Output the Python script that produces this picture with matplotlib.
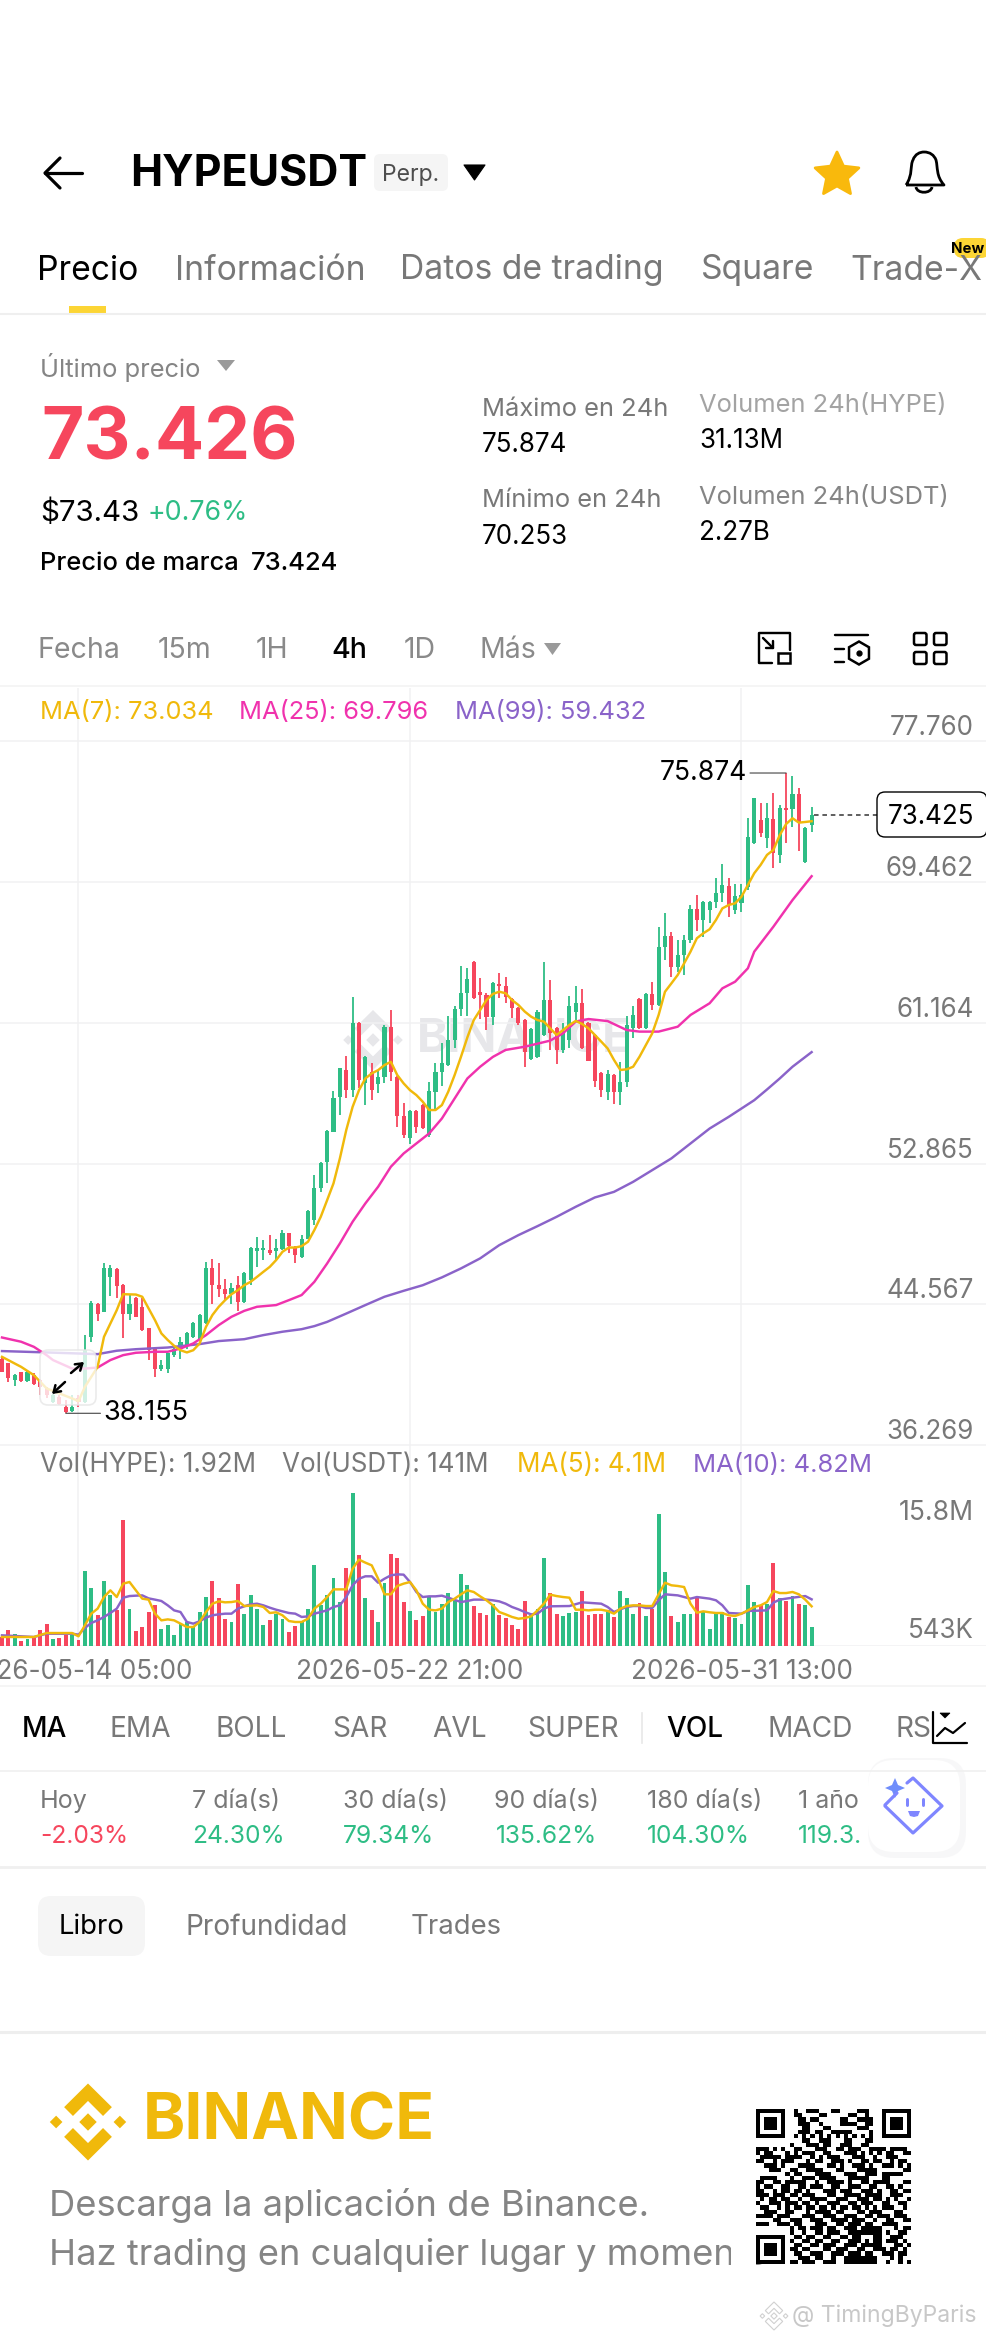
import numpy as np
import matplotlib
matplotlib.use("Agg")
import matplotlib.pyplot as plt
from matplotlib.patches import FancyBboxPatch, Polygon, PathPatch, Rectangle
from matplotlib.path import Path

plt.rcParams['font.family'] = ['Inter', 'DejaVu Sans']

W, H = 987, 2340
UP = '#2ebd85'
DOWN = '#f6465d'
YELLOW = '#f0b90b'
PINK = '#f032ad'
PURPLE = '#8a63c9'
GRID = '#f1f1f2'
GRAY = '#787878'

# 4h candles
opens = [41.38, 41.09, 40.11, 40.56, 40.07, 40.40, 40.11, 39.62, 38.83, 39.13,
         38.54, 38.30, 39.03, 38.83, 42.66, 44.62, 44.13, 46.20, 46.63, 45.70,
         44.03, 44.92, 44.43, 43.15, 41.97, 40.74, 40.79, 41.58, 41.97, 42.17,
         42.62, 42.47, 43.45, 46.69, 45.70, 45.45, 45.21, 45.70, 44.72, 46.00,
         47.73, 47.77, 47.77, 47.73, 47.81, 48.75, 47.96, 47.38, 48.45, 49.53,
         51.40, 52.97, 54.74, 56.76, 58.37, 57.19, 61.14, 57.59, 58.27, 57.55,
         57.98, 60.93, 57.98, 55.66, 54.35, 55.96, 56.31, 54.54, 57.10, 58.27,
         58.67, 60.15, 61.95, 62.90, 64.76, 62.99, 62.80, 61.52, 63.43, 63.35,
         62.54, 62.01, 61.32, 59.00, 59.16, 60.44, 62.50, 60.83, 59.56, 60.15,
         61.82, 62.31, 61.13, 60.44, 58.18, 57.10, 58.08, 57.10, 57.69, 60.83,
         62.54, 60.83, 62.86, 62.21, 65.64, 66.27, 64.43, 65.15, 66.04, 67.84,
         67.22, 67.81, 68.30, 68.79, 69.24, 67.81, 68.20, 69.18, 71.73, 73.11,
         72.03, 73.15, 71.05, 73.80, 73.74, 74.64, 70.65, 72.81]
highs = [41.48, 41.13, 40.44, 40.60, 40.64, 40.50, 40.20, 39.72, 39.32, 39.22,
         38.93, 39.22, 39.22, 42.76, 44.76, 44.68, 46.98, 46.88, 46.70, 45.80,
         45.12, 44.98, 44.92, 43.20, 42.00, 41.29, 41.72, 42.07, 42.66, 42.96,
         43.55, 44.00, 47.08, 47.22, 46.98, 46.04, 45.84, 46.24, 46.45, 47.98,
         48.55, 48.36, 48.65, 48.45, 48.95, 48.80, 48.00, 48.65, 50.12, 52.19,
         52.95, 54.85, 57.14, 58.52, 59.20, 62.65, 61.20, 59.20, 58.77, 58.37,
         61.00, 61.91, 58.00, 56.41, 56.00, 56.00, 56.35, 57.68, 58.80, 59.94,
         61.56, 62.15, 64.50, 64.37, 64.80, 63.78, 62.93, 63.58, 64.07, 63.84,
         62.60, 62.10, 61.40, 60.85, 61.90, 64.76, 63.68, 60.90, 61.13, 62.74,
         63.33, 63.13, 61.20, 60.50, 58.25, 58.38, 58.15, 58.87, 61.56, 62.15,
         62.60, 62.90, 63.58, 66.78, 67.61, 66.53, 66.04, 66.33, 68.10, 68.69,
         68.35, 68.35, 69.67, 70.50, 69.67, 69.34, 69.34, 73.21, 74.42, 74.09,
         74.09, 74.72, 73.99, 75.874, 75.70, 74.97, 72.70, 73.85]
lows = [40.56, 40.01, 39.75, 40.02, 40.01, 39.81, 39.22, 39.03, 38.77, 38.63,
        38.155, 38.25, 38.54, 38.79, 42.37, 43.60, 44.10, 45.06, 44.92, 42.60,
        43.64, 43.80, 43.00, 41.29, 40.30, 40.66, 40.54, 41.50, 41.33, 41.97,
        42.58, 42.40, 43.40, 44.62, 45.02, 44.82, 44.62, 44.19, 44.68, 45.70,
        46.79, 47.18, 47.47, 47.18, 47.75, 47.57, 47.02, 47.30, 48.40, 49.24,
        51.20, 51.70, 54.70, 55.72, 56.70, 56.76, 57.29, 56.31, 56.64, 57.04,
        57.63, 57.74, 55.03, 54.35, 54.01, 54.68, 54.90, 54.44, 56.02, 57.43,
        58.60, 59.65, 61.56, 61.56, 62.55, 61.36, 60.74, 61.03, 62.60, 62.35,
        61.42, 61.03, 58.57, 58.95, 59.10, 60.40, 59.56, 58.73, 59.36, 59.65,
        61.23, 59.60, 58.90, 57.40, 56.81, 56.61, 56.37, 56.32, 57.40, 60.24,
        60.80, 60.80, 61.91, 62.15, 64.86, 63.88, 64.17, 63.98, 65.84, 66.59,
        66.19, 67.02, 67.90, 68.30, 67.41, 67.55, 67.71, 68.98, 71.70, 72.13,
        71.44, 70.253, 70.55, 71.77, 72.72, 71.30, 70.60, 72.42]
closes = [40.60, 40.21, 40.40, 40.07, 40.56, 39.87, 39.72, 39.22, 39.22, 38.73,
          38.24, 38.54, 38.83, 41.88, 44.68, 44.03, 46.69, 46.73, 45.65, 44.03,
          44.62, 43.84, 43.05, 41.88, 40.79, 40.99, 41.68, 41.97, 42.37, 42.86,
          43.49, 43.94, 46.69, 45.70, 45.47, 45.21, 45.51, 44.72, 46.39, 47.92,
          47.87, 47.87, 47.57, 47.87, 48.79, 48.00, 47.47, 48.45, 50.08, 51.40,
          52.91, 54.80, 56.70, 58.47, 57.19, 61.14, 57.78, 59.16, 57.19, 57.98,
          60.93, 58.27, 55.66, 54.54, 55.96, 55.03, 54.94, 57.15, 58.27, 58.77,
          60.14, 61.95, 62.90, 63.72, 62.60, 62.80, 61.52, 63.48, 63.33, 62.70,
          62.01, 61.13, 59.46, 60.77, 61.82, 62.50, 60.54, 59.56, 60.54, 62.15,
          62.31, 59.65, 58.93, 57.75, 57.20, 58.14, 57.10, 57.69, 61.03, 61.62,
          60.83, 62.86, 62.21, 65.64, 66.27, 64.43, 65.15, 66.04, 67.84, 67.22,
          68.30, 68.30, 68.79, 69.28, 68.10, 68.63, 68.69, 72.13, 74.38, 72.32,
          73.21, 71.14, 73.80, 73.70, 74.64, 72.91, 72.62, 73.425]
volumes = [0.93, 1.62, 1.27, 0.48, 0.69, 0.86, 1.62, 2.31, 0.72, 0.86,
           1.10, 1.10, 0.59, 7.71, 5.96, 3.17, 6.68, 5.23, 3.68, 12.98,
           3.86, 1.58, 1.96, 3.51, 4.20, 1.79, 2.13, 1.10, 2.31, 2.48,
           1.96, 3.48, 5.03, 6.68, 4.99, 2.75, 2.48, 6.44, 3.27, 5.23,
           3.82, 2.20, 2.65, 3.34, 2.82, 1.41, 2.07, 2.48, 3.86, 8.33,
           4.20, 5.23, 6.99, 4.58, 8.09, 15.80, 9.37, 4.92, 3.75, 2.44,
           6.54, 9.47, 9.06, 4.58, 3.58, 2.65, 3.06, 5.06, 3.51, 4.30,
           5.47, 4.72, 7.40, 6.27, 4.17, 3.37, 3.17, 4.37, 3.17, 2.86,
           2.13, 1.72, 4.61, 3.17, 3.86, 9.06, 5.51, 3.27, 3.06, 3.41,
           3.48, 5.68, 3.17, 3.34, 3.27, 3.68, 3.00, 5.65, 4.92, 3.27,
           4.48, 3.06, 3.86, 13.60, 7.61, 3.10, 2.48, 3.31, 3.34, 4.99,
           3.51, 1.72, 3.34, 3.51, 3.00, 2.93, 2.31, 6.34, 4.58, 4.20,
           4.37, 8.61, 4.99, 4.65, 5.13, 4.30, 4.20, 1.92]

# moving averages, read at the listed candle numbers
ma7_idx = [0, 3, 5, 7, 11, 12, 13, 15, 16, 18, 19, 21, 22, 23, 24, 25, 26, 27, 28, 29,
           30, 31, 32, 33, 34, 35, 36, 37, 38, 39, 40, 41, 42, 43, 44, 45, 46, 47, 48, 49,
           50, 51, 52, 53, 54, 55, 56, 57, 58, 59, 60, 61, 62, 63, 64, 65, 66, 67, 68, 69,
           70, 71, 72, 73, 74, 75, 76, 77, 78, 79, 80, 81, 82, 83, 84, 85, 86, 87, 88, 89,
           90, 91, 92, 93, 94, 95, 96, 97, 98, 99, 100, 101, 102, 103, 104, 105, 106, 107, 108, 109,
           110, 111, 112, 113, 114, 115, 116, 117, 118, 119, 120, 121, 122, 123, 124, 125, 126, 127]
ma7 = [41.48, 40.89, 40.40, 39.62, 39.03, 38.87, 39.71, 40.89, 42.66, 44.23, 45.17, 45.15, 45.02, 44.33, 43.64, 42.86, 42.47, 42.13, 41.87, 41.74,
       41.87, 42.27, 43.25, 43.94, 44.43, 44.82, 45.17, 45.41, 45.70, 45.90, 46.19, 46.49, 46.78, 47.18, 47.67, 47.92, 47.92, 48.00, 48.26, 48.95,
       49.73, 50.71, 51.70, 53.17, 54.84, 56.21, 57.19, 57.88, 58.18, 58.37, 58.67, 58.86, 58.08, 57.59, 57.19, 56.90, 56.51, 56.02, 56.02, 56.31,
       57.10, 58.08, 59.16, 60.30, 61.32, 61.91, 62.50, 62.86, 62.99, 62.90, 62.50, 62.21, 61.82, 61.52, 61.32, 61.23, 60.83, 60.44, 60.73, 61.03,
       61.27, 61.09, 60.83, 60.44, 60.05, 59.65, 58.97, 58.38, 58.42, 58.57, 59.16, 59.85, 60.54, 61.62, 62.99, 63.48, 63.98, 64.66, 65.35, 66.14,
       66.43, 66.67, 67.22, 67.90, 68.10, 68.20, 68.59, 69.28, 69.97, 70.46, 71.05, 71.34, 72.22, 72.87, 73.21, 72.95, 72.99, 73.034]
ma25_idx = [0, 3, 5, 7, 8, 11, 13, 15, 17, 19, 21, 24, 26, 28, 30, 32, 34, 36, 38, 40, 43, 45, 47, 49, 51, 53,
            55, 57, 59, 61, 63, 65, 67, 69, 71, 73, 75, 77, 79, 82, 86, 88, 90, 92, 95, 98, 100, 103, 106, 108,
            111, 113, 115, 117, 118, 121, 124, 127]
ma25 = [42.62, 42.37, 42.07, 41.58, 41.29, 40.79, 40.79, 40.85, 41.29, 41.58, 41.72, 41.78, 41.78, 41.97, 42.27, 42.76, 43.35, 43.84, 44.19, 44.43, 44.53, 44.82, 45.12, 45.90, 46.98, 48.16,
        49.44, 50.52, 51.50, 52.68, 53.46, 54.05, 54.64, 55.52, 56.70, 57.88, 58.57, 59.15, 59.56, 59.75, 60.11, 60.54, 61.23, 61.38, 61.26, 60.73, 60.64, 60.64, 60.93, 61.62,
        62.31, 63.19, 63.58, 64.37, 65.35, 66.82, 68.39, 69.796]
ma99_idx = [0, 7, 15, 18, 21, 26, 31, 34, 38, 41, 44, 47, 49, 51, 54, 57, 60, 63, 66, 69, 72, 75, 78, 81, 84,
            87, 90, 93, 96, 99, 102, 105, 108, 111, 114, 116, 118, 120, 122, 124, 127]
ma99 = [41.82, 41.74, 41.64, 41.84, 41.93, 42.03, 42.23, 42.41, 42.52, 42.76, 42.96, 43.11, 43.29, 43.54, 44.03, 44.53, 45.02, 45.37, 45.70, 46.16, 46.69, 47.28, 48.06, 48.65, 49.18,
        49.73, 50.32, 50.87, 51.20, 51.79, 52.48, 53.17, 54.05, 54.93, 55.62, 56.11, 56.60, 57.23, 57.88, 58.57, 59.432]
vol_ma5_idx = [0, 5, 7, 11, 12, 13, 14, 15, 16, 17, 18, 19, 20, 21, 22, 23, 24, 25, 26, 27, 28, 29, 30, 31, 32, 33, 34, 35, 36, 37,
               38, 40, 41, 42, 43, 44, 45, 46, 47, 48, 49, 50, 51, 52, 54, 55, 56, 57, 58, 59, 60, 61, 62, 63, 64, 65, 66, 67, 68, 69,
               70, 71, 72, 73, 74, 75, 76, 77, 78, 79, 80, 81, 82, 83, 84, 85, 86, 87, 88, 89, 90, 91, 92, 93, 94, 95, 96, 97, 98, 99,
               100, 101, 102, 103, 104, 105, 106, 107, 108, 109, 110, 111, 112, 113, 114, 115, 116, 117, 118, 119, 120, 121, 122, 123, 124, 125, 126, 127]
vol_ma5 = [0.93, 0.93, 1.34, 1.34, 1.00, 2.13, 3.34, 3.86, 5.06, 5.75, 5.06, 6.44, 6.61, 5.75, 4.89, 4.79, 3.34, 2.65, 2.75, 2.65, 2.31, 1.96, 1.96, 2.48, 3.51, 4.37, 4.61, 4.51, 4.54, 4.65,
           4.13, 4.20, 4.03, 3.41, 3.48, 3.17, 2.58, 2.48, 2.48, 2.82, 3.86, 4.37, 5.06, 5.85, 5.85, 7.99, 8.92, 8.61, 8.33, 6.95, 5.34, 5.34, 6.20, 6.44, 6.61, 5.75, 4.37, 3.75, 3.68, 3.86,
           4.54, 4.89, 5.34, 5.75, 5.58, 5.13, 4.72, 4.20, 3.51, 3.27, 3.00, 2.82, 2.89, 3.06, 3.68, 4.37, 5.30, 5.16, 5.06, 4.99, 3.75, 3.75, 3.68, 3.75, 3.75, 3.62, 3.34, 3.86, 4.13, 4.20,
           4.20, 4.13, 4.13, 5.34, 6.54, 6.27, 6.20, 6.09, 4.37, 3.44, 3.58, 3.48, 3.41, 3.41, 3.17, 3.10, 3.34, 3.68, 4.03, 4.20, 4.54, 5.68, 5.47, 5.47, 5.58, 5.34, 4.79, 4.10]
vol_ma10_idx = [0, 3, 5, 7, 11, 12, 13, 14, 15, 16, 17, 18, 19, 20, 21, 22, 23, 24, 25, 26, 27, 28, 29, 30, 31, 32, 33, 34, 35, 36,
                37, 38, 39, 40, 41, 42, 43, 44, 45, 46, 47, 48, 49, 50, 51, 52, 53, 54, 55, 56, 57, 58, 59, 60, 61, 62, 63, 64, 65, 66,
                67, 68, 69, 70, 72, 73, 74, 76, 77, 78, 79, 80, 81, 82, 83, 84, 85, 86, 89, 91, 94, 95, 96, 97, 98, 99, 100, 101, 102, 103,
                104, 106, 108, 109, 111, 112, 113, 114, 116, 117, 120, 121, 122, 124, 126, 127]
vol_ma10 = [1.10, 1.00, 0.93, 1.27, 1.27, 1.17, 1.86, 2.38, 2.65, 3.00, 3.41, 3.86, 4.99, 5.16, 5.20, 5.23, 4.92, 4.79, 4.65, 4.20, 3.68, 3.51, 2.48, 2.31, 2.55, 2.93, 3.17, 3.27, 3.34, 3.34,
            3.86, 4.10, 4.30, 4.37, 4.20, 3.96, 3.75, 3.58, 3.41, 3.34, 3.00, 3.06, 3.34, 3.51, 3.68, 4.03, 4.20, 5.06, 6.27, 6.95, 7.20, 7.20, 6.54, 6.95, 7.30, 7.40, 7.37, 6.61, 5.58, 5.06,
            5.13, 5.13, 5.20, 4.99, 4.54, 4.65, 4.79, 4.79, 4.72, 4.61, 4.37, 4.03, 3.79, 3.51, 3.27, 3.34, 3.86, 4.10, 4.13, 4.51, 4.37, 4.03, 3.51, 3.79, 4.03, 4.13, 4.13, 3.93, 3.93, 4.72,
            5.34, 5.23, 4.89, 5.06, 4.89, 4.72, 4.20, 3.41, 3.34, 3.62, 3.68, 4.48, 4.79, 4.99, 5.16, 4.82]

price_ticks = [77.760, 69.462, 61.164, 52.865, 44.567, 36.269]
time_ticks = [12, 64, 116]
time_labels = ['2026-05-14 05:00', '2026-05-22 21:00', '2026-05-31 13:00']
periods = ['Hoy', '7 día(s)', '30 día(s)', '90 día(s)', '180 día(s)', '1 año']
period_values = ['-2.03%', '24.30%', '79.34%', '135.62%', '104.30%', '119.3.']
indicators = ['MA', 'EMA', 'BOLL', 'SAR', 'AVL', 'SUPER', 'VOL', 'MACD', 'RS']
timeframes = ['Fecha', '15m', '1H', '4h', '1D', 'Más']

qr_rows = [
    "1111111001001110001100001110001111111",
    "1000001001100001100000110010001000001",
    "1011101000110110000011001111001011101",
    "1011101000111001000011110011001011101",
    "1011101000011000110000001110001011101",
    "1000001000111011001111100001001000001",
    "1111111001010101010101010101001111111",
    "0000000000011001110001100011000000000",
    "0000000010001110110011100110000000000",
    "1110101001100011100110111001111011110",
    "1011000101011100110001110101010110011",
    "0111110111100101011100011100100111000",
    "1100101110001011001110100110110010110",
    "0011101000111100011010011101001110101",
    "0001110011001111000110001111100000011",
    "0000000101100011110001110011101111100",
    "0111100010011101111000111110001100000",
    "1100110111110010011110100110111100011",
    "1011001100110111001100111001100110100",
    "1100101101101000111011100111010011011",
    "1110111011011100011001111011110011100",
    "0101101100100111100111001110110101001",
    "1001110111011010011100110111001100110",
    "0110010101101101101011011010101110010",
    "0011100110001011110110001101110001100",
    "1111011100011100111001110011011101110",
    "0000110011100111001111011100100110011",
    "1110011101100011100110111011001111000",
    "0000000010110111011001110111110001011",
    "0000000010010011011100111111110100110",
    "1111111001101100110011011000110011100",
    "1000001010011011001100111010110111010",
    "1011101001100110111001110111110001101",
    "1011101011011000110111001100111011010",
    "1011101001100111001110111011001110110",
    "1000001000111011001001111111100010100",
    "1111111011011100111001111111100100101",
]


def t(x, y, s, px, color='black', ha='left', weight='normal', ax=None, **kw):
    return (ax or ui).text(x, y + 2.5, s, fontsize=px * 0.72, color=color, ha=ha, va='center',
                           fontweight=weight, **kw)


def stroke(xs, ys, color='black', lw=2.4, ax=None, **kw):
    (ax or ui).plot(xs, ys, color=color, lw=lw * 0.72, solid_capstyle='round',
                    solid_joinstyle='round', **kw)


def binance_logo(ax, cx, cy, half, color, filled=True):
    s = half / 64.0
    chevron = np.array([(-25, -10), (0, -35), (25, -10), (39.7, -24.7), (0, -64), (-39.7, -24.7)])
    shapes = [chevron, chevron * [1, -1]]
    for dx, r in [(0, 14.5), (-53, 10.5), (53, 10.5)]:
        shapes.append(np.array([(dx - r, 0), (dx, -r), (dx + r, 0), (dx, r)]))
    for shape in shapes:
        ax.add_patch(Polygon(shape * s + [cx, cy], closed=True, fc=color if filled else 'none',
                             ec=color, lw=0.8 if not filled else 0))


fig = plt.figure(figsize=(W / 100, H / 100), dpi=100, facecolor='white')


def px_axes(top, bottom, z):
    a = fig.add_axes([0, 1 - bottom / H, 1, (bottom - top) / H], zorder=z)
    a.patch.set_alpha(0)
    for sp in a.spines.values():
        sp.set_visible(False)
    return a


bg = px_axes(0, H, 0)
bg.set_xlim(0, W)
bg.set_ylim(H, 0)
bg.axis('off')

ui = px_axes(0, H, 5)
ui.set_xlim(0, W)
ui.set_ylim(H, 0)
ui.axis('off')

# chart watermark, behind the candles
binance_logo(bg, 373, 1040, 30, '#e7e7ea')
t(417, 1037.5, 'BINANCE', 47, '#e7e7ea', weight='bold', ax=bg)

# price panel: 2 + 6.375 px per candle, 16.97 px per price unit
STEP = 6.375
PX_UNIT = (1445.3 - 741) / (price_ticks[0] - price_ticks[-1])
x_lim = (-2 / STEP, (W - 2) / STEP)
PRICE_TOP, PRICE_BOTTOM, VOL_BOTTOM = 688, 1456, 1646
VOL_PX = 0.1033  # million per px

ax = px_axes(PRICE_TOP, PRICE_BOTTOM, 2)
ax.set_xlim(*x_lim)
ax.set_ylim(price_ticks[0] - (PRICE_BOTTOM - 741) / PX_UNIT, price_ticks[0] + (741 - PRICE_TOP) / PX_UNIT)
ax.set_yticks(price_ticks, [f'{p:.3f}' for p in price_ticks])
ax.set_xticks(time_ticks, [])
ax.grid(True, color=GRID, lw=1.1)
ax.set_axisbelow(True)
ax.tick_params(axis='x', length=0)
ax.tick_params(axis='y', length=0, labelleft=False, labelright=True, pad=-13 * 0.72,
               labelsize=26 * 0.72, labelcolor=GRAY)
for lab in ax.get_yticklabels():
    lab.set_ha('right')
    lab.set_va('bottom')

idx = np.arange(len(opens))
o, h, l, c = map(np.array, (opens, highs, lows, closes))
colors = [UP if cc >= oo else DOWN for oo, cc in zip(o, c)]
ax.vlines(idx, l, h, colors=colors, lw=1.3, zorder=2)
ax.bar(idx, np.abs(c - o), bottom=np.minimum(o, c), width=0.64, color=colors, zorder=2)
ax.plot(ma99_idx, ma99, color=PURPLE, lw=1.75, zorder=3)
ax.plot(ma25_idx, ma25, color=PINK, lw=1.75, zorder=3)
ax.plot(ma7_idx, ma7, color=YELLOW, lw=1.75, zorder=3)

ax.annotate('75.874', xy=(123, 75.874), xytext=(-28, 0), textcoords='offset points', ha='right', va='center',
            fontsize=26.5 * 0.72, arrowprops=dict(arrowstyle='-', lw=0.8, color='#444444', shrinkA=0, shrinkB=0))
ax.annotate('38.155', xy=(10, 38.155), xytext=(27, 0), textcoords='offset points', ha='left', va='center',
            fontsize=27 * 0.72, arrowprops=dict(arrowstyle='-', lw=0.8, color='#444444', shrinkA=0, shrinkB=0))
ax.hlines(73.425, 127.4, (877 - 2) / STEP, colors='#333333', lw=1.1, linestyles=(0, (3, 2.5)), zorder=3)

# volume panel
axv = px_axes(PRICE_BOTTOM, VOL_BOTTOM, 2)
axv.set_xlim(*x_lim)
axv.set_ylim(0, (VOL_BOTTOM - PRICE_BOTTOM) * VOL_PX)
axv.set_yticks([0])
axv.set_xticks(time_ticks, time_labels)
axv.grid(True, color=GRID, lw=1.1)
axv.set_axisbelow(True)
axv.tick_params(axis='y', length=0, labelleft=False)
axv.tick_params(axis='x', length=0, pad=9.5, labelsize=26.2 * 0.72, labelcolor=GRAY)
axv.bar(idx, volumes, width=0.6, color=colors, zorder=2)
axv.plot(vol_ma10_idx, vol_ma10, color=PURPLE, lw=1.75, zorder=3)
axv.plot(vol_ma5_idx, vol_ma5, color=YELLOW, lw=1.75, zorder=3)

# header
stroke([82, 45], [173, 173], lw=3.2)
stroke([60, 45, 60], [158, 173, 188], lw=3.2)
t(130, 172, 'HYPEUSDT', 43, weight='bold')
ui.add_patch(FancyBboxPatch((378, 158), 66, 29, boxstyle='round,pad=4,rounding_size=6', fc='#f5f5f5', ec='none'))
t(411, 172, 'Perp.', 23, '#4d4d4d', ha='center')
ui.add_patch(Polygon([(464, 165), (485, 165), (474.5, 180)], fc='black', ec='black', lw=0.8, joinstyle='round'))

ang = np.deg2rad(np.arange(10) * 36 - 90)
rad = np.where(np.arange(10) % 2 == 0, 23, 11)
ui.add_patch(Polygon(np.c_[837 + rad * np.cos(ang), 175 + rad * np.sin(ang)], fc='#f9b90c', ec='#f9b90c',
                     lw=2, joinstyle='round'))
bell = Path([(906, 185), (913, 175), (910, 165), (913, 160), (915, 154), (920, 152), (924, 152),
             (930, 152), (934, 155), (936, 160), (938, 168), (936, 176), (944, 185), (906, 185)],
            [Path.MOVETO] + [Path.CURVE4] * 12 + [Path.LINETO])
ui.add_patch(PathPatch(bell, fc='none', ec='black', lw=2.0, joinstyle='round'))
clap = Path([(916, 187), (917, 194), (931, 194), (932, 187)], [Path.MOVETO] + [Path.CURVE4] * 3)
ui.add_patch(PathPatch(clap, fc='none', ec='black', lw=2.0))

# tabs
for x, s, col in [(37, 'Precio', 'black'), (175, 'Información', GRAY), (400, 'Datos de trading', GRAY),
                  (701, 'Square', GRAY), (850, 'Trade-X', GRAY)]:
    t(x, 268, s, 33.6, col)
ui.add_patch(FancyBboxPatch((957, 241), 30, 14, boxstyle='round,pad=3,rounding_size=9', fc='#fcd535', ec='none'))
t(968, 246.5, 'New', 15, 'black', ha='center', weight='bold')
ui.add_patch(Rectangle((69, 306), 37, 7, fc='#fcd535', ec='none'))
ui.axhline(314, color='#efefef', lw=1.5)

# last price block
t(40, 365, 'Último precio', 25.5, '#858585')
ui.add_patch(Polygon([(217, 360), (235, 360), (226, 371)], fc='#9a9a9a', ec='none'))
t(41, 438, '73.426', 73, DOWN, weight='bold')
t(40, 511, '$73.43', 29.5, 'black')
t(148, 511, '+0.76%', 26.8, UP)
t(40, 561, 'Precio de marca', 25.5, 'black', weight='medium')
t(251, 561, '73.424', 25.5, 'black', weight='medium')
t(482, 407, 'Máximo en 24h', 25.5, GRAY)
t(482, 443, '75.874', 26, 'black')
t(482, 498, 'Mínimo en 24h', 25.5, GRAY)
t(482, 534, '70.253', 26, 'black')
t(699, 403, 'Volumen 24h(HYPE)', 25.5, '#a3a3a3')
t(699, 439, '31.13M', 26, 'black')
t(699, 495, 'Volumen 24h(USDT)', 25.5, '#858585')
t(699, 531, '2.27B', 26, 'black')

# timeframe row
for x, s in zip([38, 158, 256, 331, 404, 479], timeframes):
    t(x, 648, s, 28.5, 'black' if s == '4h' else '#8a8a8a', weight='medium' if s == '4h' else 'normal')
ui.add_patch(Polygon([(544, 643), (561, 643), (552.5, 655)], fc='#9a9a9a', ec='none'))

# toolbar icons
stroke([790, 790, 758.5, 758.5, 772], [650, 632.5, 632.5, 663, 663])
ui.add_patch(Rectangle((778, 653), 12, 10, fc='none', ec='black', lw=1.8))
stroke([763, 773], [638, 648])
stroke([766, 773, 773], [648, 648, 641])
stroke([835, 868], [635, 635])
stroke([835, 844], [649, 649])
stroke([835, 844], [662, 662])
hex_a = np.deg2rad(np.arange(6) * 60 - 90)
ui.add_patch(Polygon(np.c_[859 + 11.5 * np.cos(hex_a), 653 + 11.5 * np.sin(hex_a)], fc='none', ec='black', lw=1.8))
ui.plot([859], [653], 'o', color='black', ms=3.5)
for x0 in (914, 934):
    for y0 in (633, 652):
        ui.add_patch(FancyBboxPatch((x0, y0), 12.5, 12, boxstyle='round,pad=0,rounding_size=2', fc='none',
                                    ec='black', lw=1.8))
ui.axhline(686, color='#f3f3f3', lw=1.2)

# chart legends
t(40, 710.5, 'MA(7): 73.034', 25.4, YELLOW)
t(239, 710.5, 'MA(25): 69.796', 25.4, PINK)
t(455, 710.5, 'MA(99): 59.432', 25.4, PURPLE)
t(40, 1463, 'Vol(HYPE): 1.92M', 26, GRAY)
t(282, 1463, 'Vol(USDT): 141M', 26, GRAY)
t(517, 1463, 'MA(5): 4.1M', 26, YELLOW)
t(693, 1463, 'MA(10): 4.82M', 25.6, PURPLE)
t(974, 1510, '15.8M', 26.5, GRAY, ha='right')
t(974, 1628, '543K', 26, GRAY, ha='right')

# current price tag and resize handle
ui.add_patch(FancyBboxPatch((883, 798), 98, 33, boxstyle='round,pad=6,rounding_size=8', fc='white', ec='black', lw=1.0))
t(974, 814, '73.425', 26, 'black', ha='right')
ui.add_patch(FancyBboxPatch((46, 1356), 44, 43, boxstyle='round,pad=6,rounding_size=8', fc='white', ec='#e6e6e6',
                            lw=1.2, alpha=0.78))
for start, end in [((65, 1382), (52, 1394)), ((71, 1373), (84, 1362))]:
    ui.annotate('', xy=end, xytext=start, arrowprops=dict(arrowstyle='->,head_length=0.45,head_width=0.3', lw=1.8,
                                                          color='black', shrinkA=0, shrinkB=0))

# indicator row
for x, s in zip([22, 110, 215, 332, 432, 527, 666, 768, 895], indicators):
    t(x, 1727, s, 28, 'black' if s in ('MA', 'VOL') else GRAY, weight='medium' if s in ('MA', 'VOL') else 'normal')
ui.add_patch(Rectangle((910, 1710), 22, 36, fc='white', ec='none', alpha=0.75))
ui.plot([642, 642], [1713, 1743], color='#e8e8e8', lw=1.2)
stroke([933, 933, 967], [1712, 1743, 1743], lw=2.2)
ui.add_patch(Polygon([(940, 1713), (950, 1713), (945, 1718)], fc='black', ec='black', lw=0.5))
stroke([937, 945, 953, 965], [1736, 1728, 1733, 1723], lw=2.2)
ui.axhline(1686, color='#f3f3f3', lw=1.2)
ui.axhline(1770.5, color='#f0f0f0', lw=1.2)

# change per period
for x, s, v in zip([40, 192, 343, 494, 647, 798], periods, period_values):
    t(x, 1799, s, 25, GRAY)
    t(x + (2 if s == '90 día(s)' else 0), 1834, v, 24.6, DOWN if v.startswith('-') else UP)
ui.axhline(1867, color='#f0f0f0', lw=2)

# floating assistant button
ui.add_patch(FancyBboxPatch((872, 1762), 90, 92, boxstyle='round,pad=4,rounding_size=26', fc='#f7f7f8', ec='none', alpha=0.9))
ui.add_patch(FancyBboxPatch((876, 1768), 76, 76, boxstyle='round,pad=8,rounding_size=26', fc='white', ec='none'))
stroke([907, 913, 942, 913, 885, 885, 897], [1783, 1778, 1806, 1833, 1806, 1805, 1793], color='#7f86ff', lw=3.2)
ui.add_patch(Polygon([(895, 1778), (898, 1785), (905, 1788), (898, 1791), (895, 1798), (892, 1791), (885, 1788), (892, 1785)],
                     fc='#6f8dfb', ec='none'))
stroke([907, 907], [1799, 1805], color='#7f86ff', lw=3)
stroke([923, 923], [1799, 1805], color='#7f86ff', lw=3)
ui.add_patch(Polygon([(908, 1811), (920, 1811), (918, 1816), (914, 1817), (910, 1816)], fc='#7f86ff', ec='none'))

# order book tabs
ui.add_patch(FancyBboxPatch((46, 1904), 91, 44, boxstyle='round,pad=8,rounding_size=13', fc='#f5f5f5', ec='none'))
t(91.5, 1925, 'Libro', 27.5, 'black', ha='center')
t(186, 1925, 'Profundidad', 28, GRAY)
t(411, 1925, 'Trades', 27.5, GRAY)
ui.axhline(2032, color='#eeeeee', lw=2.2)

# footer
binance_logo(ui, 88, 2122, 38.5, YELLOW)
t(143, 2120, 'BINANCE', 64, YELLOW, weight='bold')
t(49, 2203, 'Descarga la aplicación de Binance.', 36.3, '#858585')
t(49, 2253, 'Haz trading en cualquier lugar y momento', 36.3, '#858585')
ui.add_patch(Rectangle((731, 2225), 25, 60, fc='white', ec='none', zorder=4))
qr = np.array([[int(ch) for ch in row.ljust(37, '0')[:37]] for row in qr_rows])
ui.imshow(qr, cmap='gray_r', extent=(756, 911, 2264, 2109), interpolation='nearest', aspect='auto', zorder=5)
ui.set_xlim(0, W)
ui.set_ylim(H, 0)

binance_logo(ui, 774, 2316, 14, '#d0d0d0', filled=False)
t(792, 2313, '@ TimingByParis', 23, '#c8c8c8')

fig.savefig('out.png', dpi=100, facecolor='white')
